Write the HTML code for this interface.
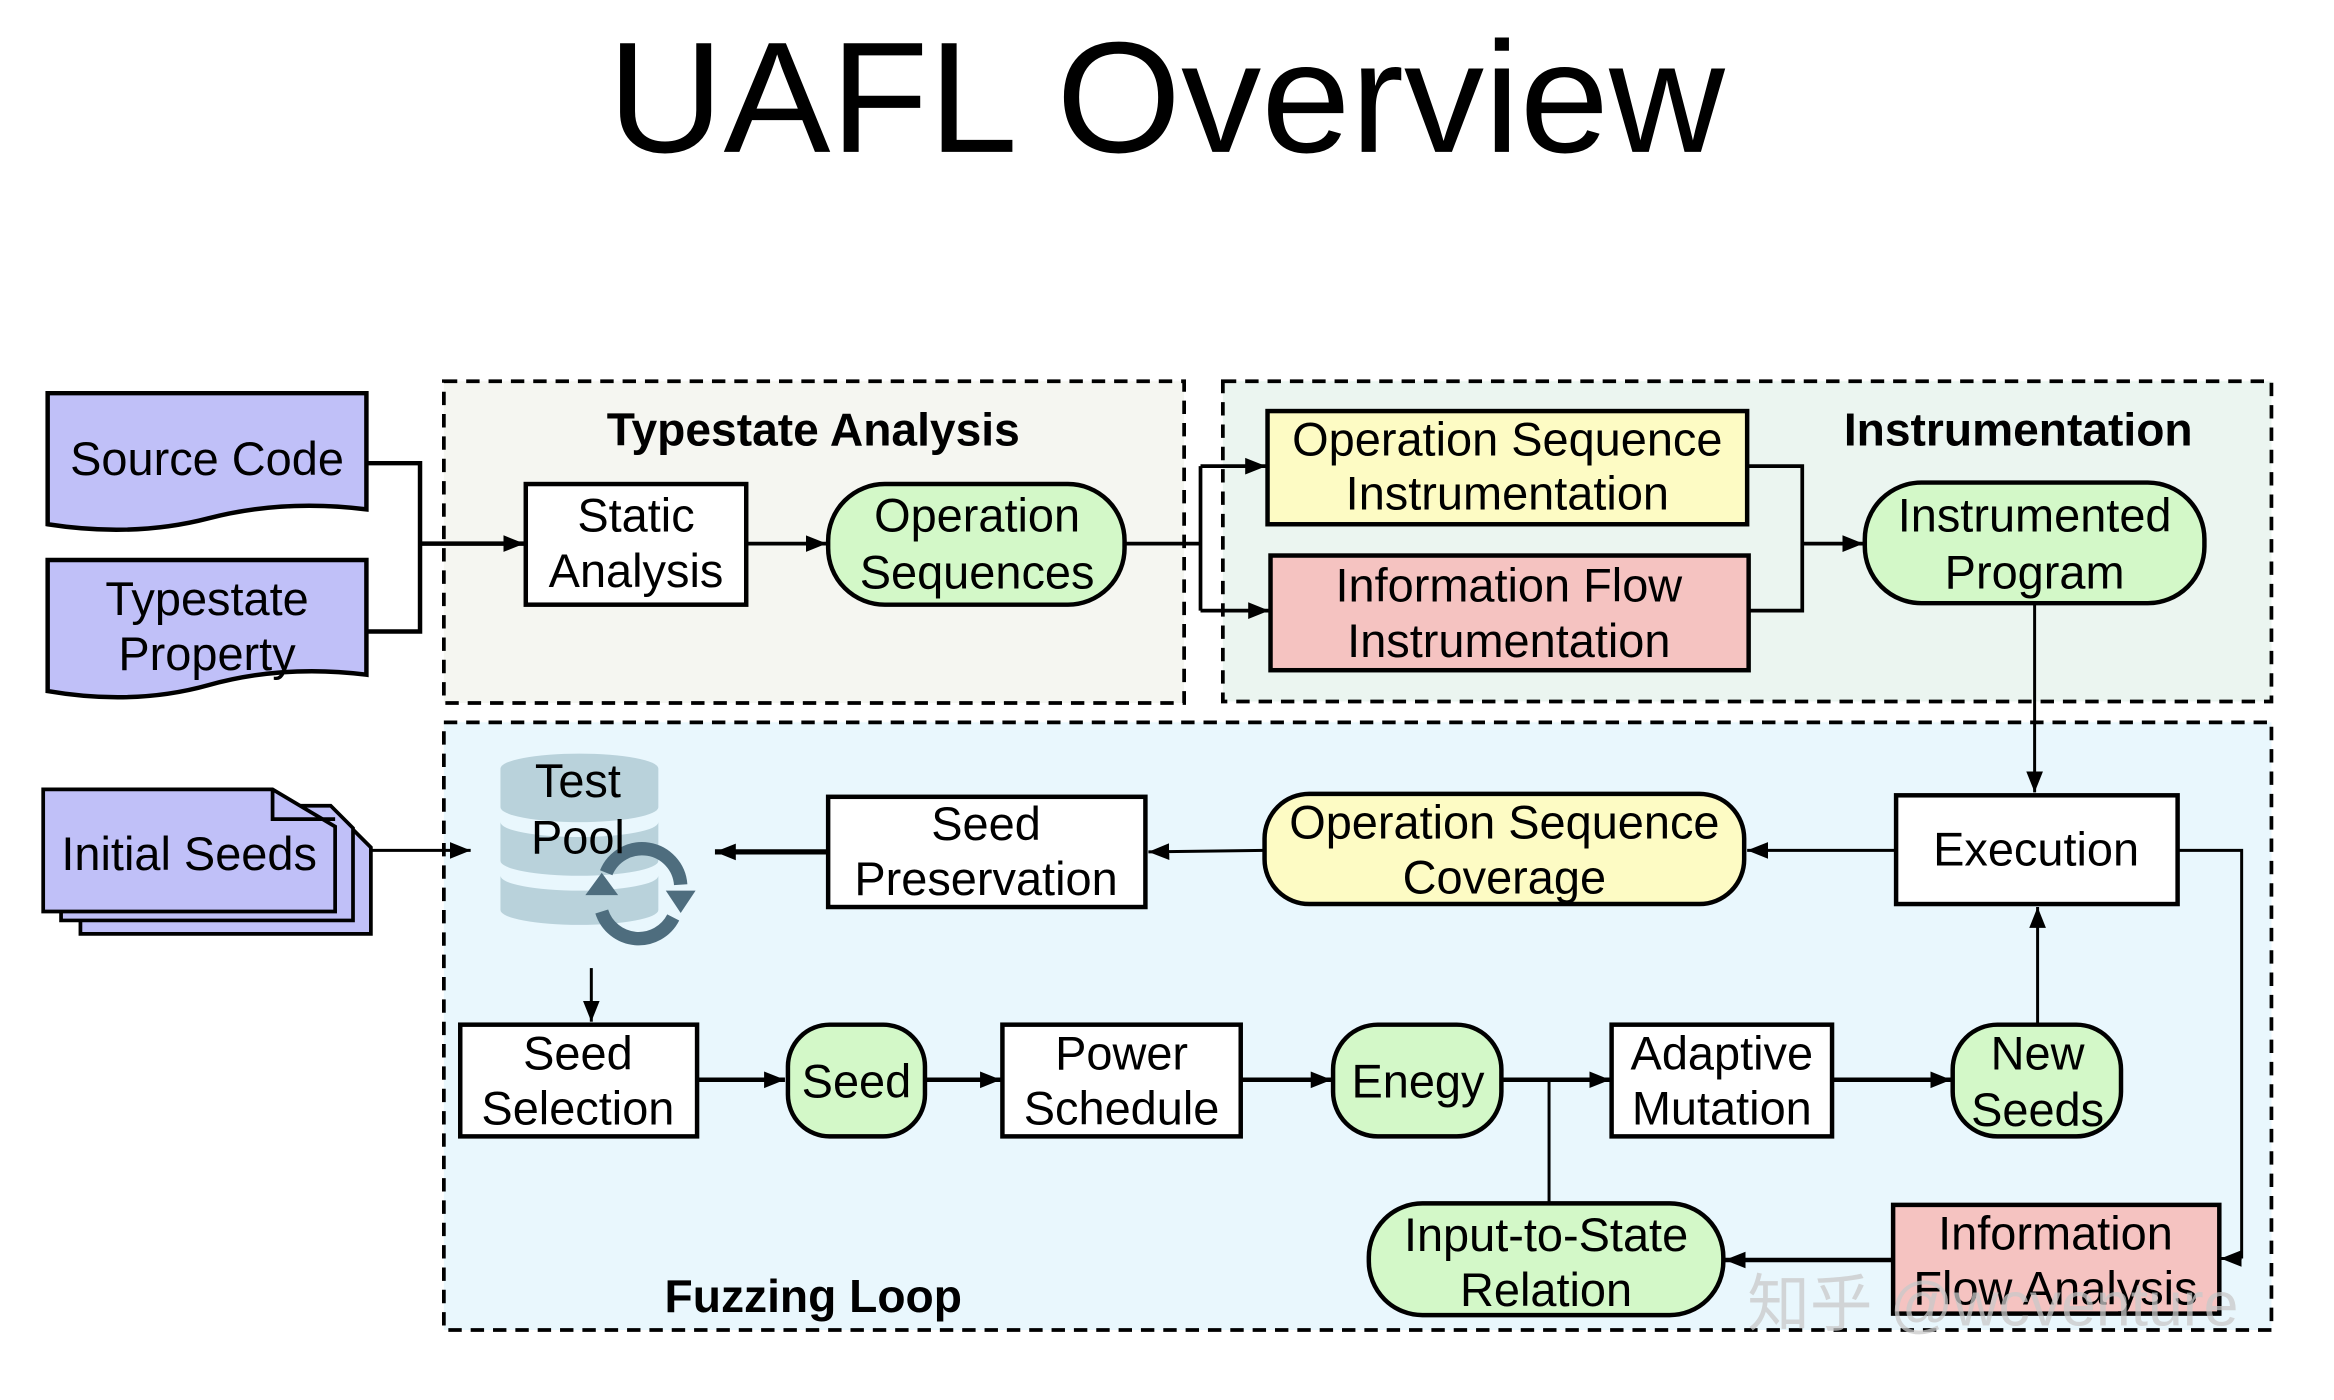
<!DOCTYPE html>
<html><head><meta charset="utf-8"><style>
html,body{margin:0;padding:0;background:#fff;width:2334px;height:1400px;overflow:hidden}
svg{display:block}
text{font-family:"Liberation Sans",sans-serif;fill:#000}
.l{font-size:31.5px;text-anchor:middle}
.b{font-size:31px;font-weight:bold;text-anchor:middle}
</style></head><body>
<svg width="2334" height="1400" viewBox="0 0 1567 940" preserveAspectRatio="none" xmlns="http://www.w3.org/2000/svg">
<defs>
<marker id="A" viewBox="0 0 10 10" refX="10" refY="5" markerWidth="14" markerHeight="14" orient="auto" markerUnits="userSpaceOnUse"><path d="M0,1L10,5L0,9z" fill="#000"/></marker>
</defs>
<text x="408" y="102" textLength="750" lengthAdjust="spacingAndGlyphs" style="font-size:106px">UAFL Overview</text>

<rect x="298" y="256" width="497" height="216" fill="#f5f6f1" stroke="#000" stroke-width="2.5" stroke-dasharray="9,6"/>
<rect x="821" y="256" width="704" height="215" fill="#ebf5f0" stroke="#000" stroke-width="2.5" stroke-dasharray="9,6"/>
<rect x="298" y="485" width="1227" height="408" fill="#e9f7fd" stroke="#000" stroke-width="2.5" stroke-dasharray="9,6"/>

<text x="546" y="299" class="b">Typestate Analysis</text>
<text x="1355" y="299" class="b">Instrumentation</text>
<text x="546" y="881" class="b">Fuzzing Loop</text>

<path d="M32,264H246V342Q190,335 140,348T32,352Z" fill="#c0c0f8" stroke="#000" stroke-width="3"/>
<text x="139" y="319" class="l">Source Code</text>
<path d="M32,376H246V453Q190,446 140,460T32,464Z" fill="#c0c0f8" stroke="#000" stroke-width="3"/>
<text x="139" y="413" class="l">Typestate</text>
<text x="139" y="450" class="l">Property</text>

<polyline points="246,311 282,311 282,424 246,424" fill="none" stroke="#000" stroke-width="3"/>
<line x1="282" y1="365" x2="352" y2="365" stroke="#000" stroke-width="3" marker-end="url(#A)"/>

<rect x="353" y="325" width="148" height="81" fill="#fff" stroke="#000" stroke-width="3"/>
<text x="427" y="357" class="l">Static</text><text x="427" y="394" class="l">Analysis</text>
<line x1="501" y1="365" x2="555" y2="365" stroke="#000" stroke-width="2.5" marker-end="url(#A)"/>
<rect x="556" y="325" width="199" height="81" rx="38" fill="#d3f8c8" stroke="#000" stroke-width="3"/>
<text x="656" y="357" class="l">Operation</text><text x="656" y="395" class="l">Sequences</text>

<polyline points="755,365 806,365" fill="none" stroke="#000" stroke-width="2.5"/>
<polyline points="806,410 806,313" fill="none" stroke="#000" stroke-width="2.5"/>
<line x1="806" y1="313" x2="850" y2="313" stroke="#000" stroke-width="2.5" marker-end="url(#A)"/>
<line x1="806" y1="410" x2="852" y2="410" stroke="#000" stroke-width="2.5" marker-end="url(#A)"/>

<rect x="851" y="276" width="322" height="76" fill="#fdfbc4" stroke="#000" stroke-width="3"/>
<text x="1012" y="306" class="l">Operation Sequence</text><text x="1012" y="342" class="l">Instrumentation</text>
<rect x="853" y="373" width="321" height="77" fill="#f5c3c1" stroke="#000" stroke-width="3"/>
<text x="1013" y="404" class="l">Information Flow</text><text x="1013" y="441" class="l">Instrumentation</text>

<polyline points="1173,313 1210,313 1210,410 1174,410" fill="none" stroke="#000" stroke-width="2.5"/>
<line x1="1210" y1="365" x2="1251" y2="365" stroke="#000" stroke-width="2.5" marker-end="url(#A)"/>
<rect x="1252" y="324" width="228" height="81" rx="38" fill="#d3f8c8" stroke="#000" stroke-width="3"/>
<text x="1366" y="357" class="l">Instrumented</text><text x="1366" y="395" class="l">Program</text>
<line x1="1366" y1="405" x2="1366" y2="532" stroke="#000" stroke-width="2" marker-end="url(#A)"/>

<rect x="1273" y="534" width="189" height="73" fill="#fff" stroke="#000" stroke-width="3"/>
<text x="1367" y="581" class="l">Execution</text>
<line x1="1273" y1="571" x2="1173" y2="571" stroke="#000" stroke-width="2" marker-end="url(#A)"/>
<rect x="849" y="533" width="322" height="74" rx="30" fill="#fdfbc4" stroke="#000" stroke-width="3"/>
<text x="1010" y="563" class="l">Operation Sequence</text><text x="1010" y="600" class="l">Coverage</text>
<line x1="849" y1="571" x2="771" y2="572" stroke="#000" stroke-width="2" marker-end="url(#A)"/>
<rect x="556" y="535" width="213" height="74" fill="#fff" stroke="#000" stroke-width="3"/>
<text x="662" y="564" class="l">Seed</text><text x="662" y="601" class="l">Preservation</text>
<line x1="556" y1="572" x2="480" y2="572" stroke="#000" stroke-width="3.5" marker-end="url(#A)"/>

<g fill="#b9d2db">
<path d="M336,516a53,10 0 0 1 106,0v26a53,10 0 0 1 -106,0z"/>
<path d="M336,552a53,10 0 0 0 106,0v26a53,10 0 0 1 -106,0z"/>
<path d="M336,588a53,10 0 0 0 106,0v23a53,10 0 0 1 -106,0z"/>
</g>
<g fill="none" stroke="#4e6d7e" stroke-width="9">
<path d="M407,586a26,26 0 0 1 50,8"/>
<path d="M452,616a26,26 0 0 1 -48,-4"/>
</g>
<path d="M447,598l20,0l-10,15z" fill="#4e6d7e"/>
<path d="M393,601l22,0l-11,-15z" fill="#4e6d7e"/>
<text x="388" y="535" class="l">Test</text><text x="388" y="573" class="l">Pool</text>

<path d="M54,552H232l17,17V627H54Z" fill="#c0c0f8" stroke="#000" stroke-width="2.5"/>
<path d="M41,541H222l15,15V618H41Z" fill="#c0c0f8" stroke="#000" stroke-width="2.5"/>
<path d="M29,530H183l42,25V612H29Z" fill="#c0c0f8" stroke="#000" stroke-width="2.5"/>
<path d="M183,530V550H225" fill="none" stroke="#000" stroke-width="2.5"/>
<text x="127" y="584" class="l">Initial Seeds</text>
<line x1="249" y1="571" x2="316" y2="571" stroke="#000" stroke-width="2" marker-end="url(#A)"/>

<line x1="397" y1="650" x2="397" y2="686" stroke="#000" stroke-width="2" marker-end="url(#A)"/>

<rect x="309" y="688" width="159" height="75" fill="#fff" stroke="#000" stroke-width="3"/>
<text x="388" y="718" class="l">Seed</text><text x="388" y="755" class="l">Selection</text>
<line x1="468" y1="725" x2="527" y2="725" stroke="#000" stroke-width="3" marker-end="url(#A)"/>
<rect x="529" y="688" width="92" height="75" rx="28" fill="#d3f8c8" stroke="#000" stroke-width="3"/>
<text x="575" y="737" class="l">Seed</text>
<line x1="621" y1="725" x2="672" y2="725" stroke="#000" stroke-width="3" marker-end="url(#A)"/>
<rect x="673" y="688" width="160" height="75" fill="#fff" stroke="#000" stroke-width="3"/>
<text x="753" y="718" class="l">Power</text><text x="753" y="755" class="l">Schedule</text>
<line x1="833" y1="725" x2="894" y2="725" stroke="#000" stroke-width="3" marker-end="url(#A)"/>
<rect x="895" y="688" width="113" height="75" rx="30" fill="#d3f8c8" stroke="#000" stroke-width="3"/>
<text x="952" y="737" class="l">Enegy</text>
<line x1="1008" y1="725" x2="1081" y2="725" stroke="#000" stroke-width="3" marker-end="url(#A)"/>
<line x1="1040" y1="725" x2="1040" y2="808" stroke="#000" stroke-width="2"/>
<rect x="1082" y="688" width="148" height="75" fill="#fff" stroke="#000" stroke-width="3"/>
<text x="1156" y="718" class="l">Adaptive</text><text x="1156" y="755" class="l">Mutation</text>
<line x1="1230" y1="725" x2="1310" y2="725" stroke="#000" stroke-width="3" marker-end="url(#A)"/>
<rect x="1311" y="688" width="113" height="75" rx="30" fill="#d3f8c8" stroke="#000" stroke-width="3"/>
<text x="1368" y="718" class="l">New</text><text x="1368" y="756" class="l">Seeds</text>
<line x1="1368" y1="688" x2="1368" y2="609" stroke="#000" stroke-width="2" marker-end="url(#A)"/>

<polyline points="1462,571 1505,571 1505,845" fill="none" stroke="#000" stroke-width="2"/>
<line x1="1505" y1="845" x2="1491" y2="845" stroke="#000" stroke-width="2" marker-end="url(#A)"/>
<rect x="1271" y="809" width="219" height="73" fill="#f5c3c1" stroke="#000" stroke-width="3"/>
<text x="1380" y="839" class="l">Information</text><text x="1380" y="876" class="l">Flow Analysis</text>
<line x1="1271" y1="846" x2="1158" y2="846" stroke="#000" stroke-width="3" marker-end="url(#A)"/>
<rect x="919" y="808" width="238" height="75" rx="36" fill="#d3f8c8" stroke="#000" stroke-width="3"/>
<text x="1038" y="840" class="l">Input-to-State</text><text x="1038" y="877" class="l">Relation</text>

<text x="1338" y="890" style="font-size:42px;text-anchor:middle;fill:rgba(200,200,200,0.75);font-family:'Liberation Sans','Noto Sans CJK SC',sans-serif">知乎 @wcventure</text>
</svg>
</body></html>
